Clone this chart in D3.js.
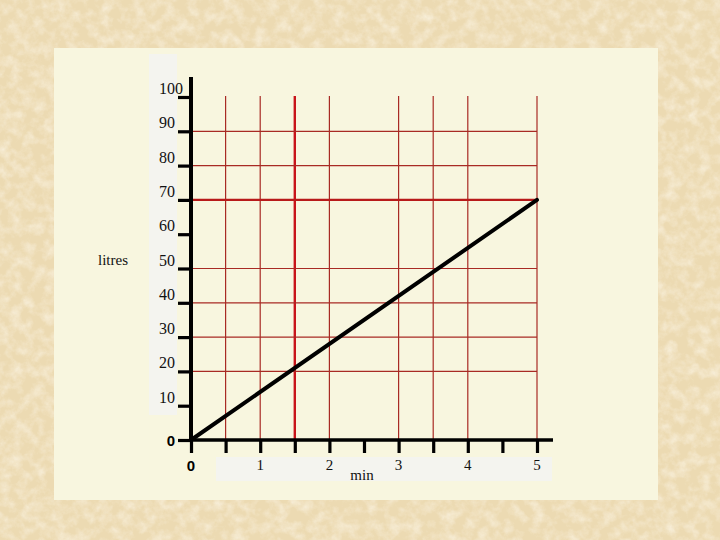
<!DOCTYPE html>
<html>
<head>
<meta charset="utf-8">
<script src="https://cdn.jsdelivr.net/npm/d3@7"></script>
<style>
html,body{margin:0;padding:0;background:#eedfb9;}
svg{display:block;}
</style>
</head>
<body>
<svg id="chart" width="720" height="540"></svg>
<script>
// ---- data ----
const minutes = [0, 5];
const litres = [0, 70];
const xTickValues = [0, 0.5, 1, 1.5, 2, 2.5, 3, 3.5, 4, 4.5, 5];
const xLabelValues = [1, 2, 3, 4, 5];
const xLabelTexts = ["1", "2", "3", "4", "5"];
const yTickValues = [0, 10, 20, 30, 40, 50, 60, 70, 80, 90, 100];
const yLabelValues = [10, 20, 30, 40, 50, 60, 70, 80, 90, 100];
const yLabelTexts = ["10", "20", "30", "40", "50", "60", "70", "80", "90", "100"];
const vGridValues = [0.5, 1, 1.5, 2, 3, 3.5, 4, 5];
const hGridValues = [20, 30, 40, 50, 70, 80, 90];
const vHighlight = [1.5];
const hHighlight = [70];
const xTitle = "min";
const yTitle = "litres";

const svg = d3.select("#chart");

// parchment background
const defs = svg.append("defs");
const f = defs.append("filter").attr("id", "parch").attr("x", 0).attr("y", 0).attr("width", 1).attr("height", 1);
f.append("feTurbulence").attr("type", "fractalNoise").attr("baseFrequency", 0.09).attr("numOctaves", 4).attr("seed", 7).attr("result", "n");
f.append("feColorMatrix").attr("in", "n").attr("type", "matrix")
  .attr("values", "0 0 0 0 0.98  0 0 0 0 0.93  0 0 0 0 0.82  -1.6 0 0 0 1.0")
  .attr("result", "light");
f.append("feComposite").attr("in", "light").attr("in2", "SourceGraphic").attr("operator", "in");
svg.append("rect").attr("width", 720).attr("height", 540).attr("fill", "#ecdab2");
svg.append("rect").attr("width", 720).attr("height", 540).attr("fill", "#ecdab2").attr("filter", "url(#parch)").attr("opacity", 0.75);

// panel
svg.append("rect").attr("x", 54).attr("y", 48).attr("width", 604).attr("height", 452).attr("fill", "#f8f6df");
// whitish label strips
svg.append("rect").attr("x", 149).attr("y", 54).attr("width", 28).attr("height", 361).attr("fill", "#f4f4ef");
svg.append("rect").attr("x", 216).attr("y", 457).attr("width", 336).attr("height", 24).attr("fill", "#f4f4ef");

const x = d3.scaleLinear().domain([0, 5]).range([191, 537]);
const y = d3.scaleLinear().domain([0, 100]).range([440, 97]);

// grid
const g = svg.append("g");
g.selectAll("line.v").data(vGridValues).join("line")
  .attr("x1", d => x(d)).attr("x2", d => x(d))
  .attr("y1", y(100) - 1).attr("y2", y(0))
  .attr("stroke", d => vHighlight.includes(d) ? "#c8141a" : "#a82a24")
  .attr("stroke-width", d => vHighlight.includes(d) ? 2.4 : 1.2);
g.selectAll("line.h").data(hGridValues).join("line")
  .attr("x1", x(0)).attr("x2", x(5))
  .attr("y1", d => y(d)).attr("y2", d => y(d))
  .attr("stroke", d => hHighlight.includes(d) ? "#b81a1a" : "#a82a24")
  .attr("stroke-width", d => hHighlight.includes(d) ? 2.4 : 1.2);

// data line
svg.append("path")
  .datum(minutes.map((m, i) => [m, litres[i]]))
  .attr("d", d3.line().x(d => x(d[0])).y(d => y(d[1])))
  .attr("fill", "none").attr("stroke", "#000").attr("stroke-width", 4).attr("stroke-linecap", "round");

// y axis ticks
const yAx = svg.append("g").attr("transform", "translate(" + x(0) + ",0)")
  .call(d3.axisLeft(y).tickValues(yTickValues).tickSize(13).tickFormat(""));
yAx.select(".domain").remove();
yAx.selectAll(".tick line").attr("stroke", "#000").attr("stroke-width", 3.2);
// x axis ticks
const xAx = svg.append("g").attr("transform", "translate(0," + y(0) + ")")
  .call(d3.axisBottom(x).tickValues(xTickValues).tickSize(13).tickFormat(""));
xAx.select(".domain").remove();
xAx.selectAll(".tick line").attr("stroke", "#000").attr("stroke-width", 3.2);

// axis lines
svg.append("line").attr("x1", x(0)).attr("x2", x(0)).attr("y1", 77).attr("y2", y(0) + 2)
  .attr("stroke", "#000").attr("stroke-width", 4);
svg.append("line").attr("x1", x(0)).attr("x2", 553).attr("y1", y(0)).attr("y2", y(0))
  .attr("stroke", "#000").attr("stroke-width", 3.5);

// labels
const serif = "'Liberation Serif', 'DejaVu Serif', serif";
svg.selectAll("text.yl").data(yLabelValues).join("text")
  .attr("x", 159).attr("y", d => y(d) - 3)
  .attr("font-family", serif).attr("font-size", 16).attr("fill", "#111")
  .text((d, i) => yLabelTexts[i]);
svg.append("text").attr("x", 171).attr("y", y(0) + 6).attr("text-anchor", "middle")
  .attr("font-family", "'Liberation Sans', Arial, sans-serif").attr("font-weight", "bold")
  .attr("font-size", 15).attr("fill", "#000").text("0");
svg.append("text").attr("x", x(0)).attr("y", 471).attr("text-anchor", "middle")
  .attr("font-family", "'Liberation Sans', Arial, sans-serif").attr("font-weight", "bold")
  .attr("font-size", 15).attr("fill", "#000").text("0");
svg.selectAll("text.xl").data(xLabelValues).join("text")
  .attr("x", d => x(d)).attr("y", 470).attr("text-anchor", "middle")
  .attr("font-family", serif).attr("font-size", 15).attr("fill", "#111")
  .text((d, i) => xLabelTexts[i]);
svg.append("text").attr("x", 362).attr("y", 480).attr("text-anchor", "middle")
  .attr("font-family", serif).attr("font-size", 15).attr("fill", "#111").text(xTitle);
svg.append("text").attr("x", 113).attr("y", 265).attr("text-anchor", "middle")
  .attr("font-family", serif).attr("font-size", 15).attr("fill", "#111").text(yTitle);
</script>
</body>
</html>
